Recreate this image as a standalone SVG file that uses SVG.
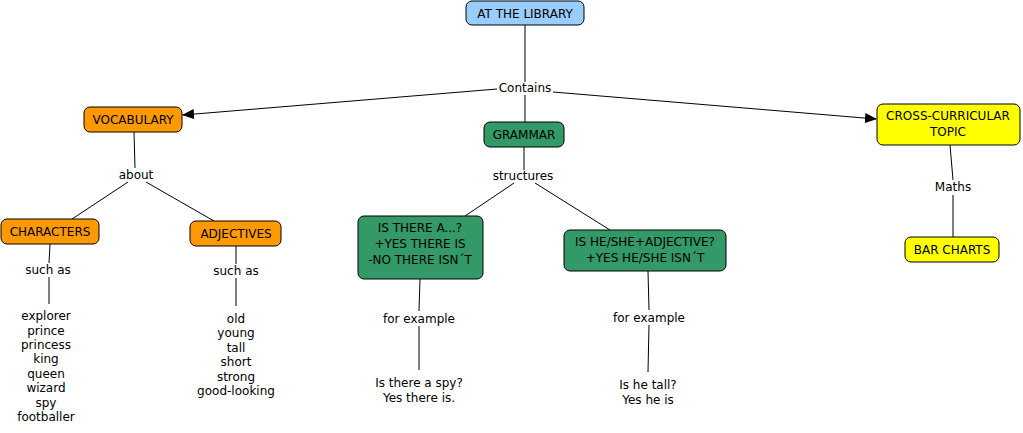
<svg xmlns="http://www.w3.org/2000/svg" width="1023" height="433" viewBox="0 0 1023 433">
<style>
text{font-family:"DejaVu Sans",Verdana,sans-serif;font-size:12px;fill:#000;text-anchor:middle}
.n{stroke:#000;stroke-width:1}
.o{fill:#ff9900}.g{fill:#339966}.y{fill:#ffff00}.b{fill:#99ccff}
.c line{stroke:#000;stroke-width:1}
</style>
<defs><marker id="a" markerWidth="12" markerHeight="10" refX="11" refY="5" orient="auto" markerUnits="userSpaceOnUse"><path d="M0,0L12,5L0,10z" fill="#000"/></marker></defs>
<rect width="1023" height="433" fill="#fff"/>
<g class="c">
<line x1="525" y1="25" x2="525" y2="82"/>
<line x1="497" y1="89" x2="183" y2="115" marker-end="url(#a)"/>
<line x1="553" y1="92" x2="876" y2="119" marker-end="url(#a)"/>
<line x1="525" y1="95" x2="525" y2="122"/>
<line x1="134" y1="132" x2="135" y2="168"/>
<line x1="128" y1="182" x2="72" y2="219"/>
<line x1="146" y1="182" x2="214" y2="221"/>
<line x1="524" y1="147" x2="524" y2="170"/>
<line x1="514" y1="183" x2="465" y2="216"/>
<line x1="535" y1="183" x2="610" y2="230"/>
<line x1="950" y1="145" x2="953" y2="180"/>
<line x1="953" y1="195" x2="953" y2="237"/>
<line x1="50" y1="244" x2="49" y2="263"/>
<line x1="49" y1="277" x2="49" y2="304"/>
<line x1="236" y1="246" x2="236" y2="264"/>
<line x1="236" y1="278" x2="236" y2="306"/>
<line x1="420" y1="279" x2="419" y2="311"/>
<line x1="419" y1="326" x2="419" y2="370"/>
<line x1="648" y1="271" x2="649" y2="310"/>
<line x1="649" y1="325" x2="648" y2="372"/>
</g>
<g id="library"><rect class="n b" x="466" y="1" width="118" height="24" rx="6"/><text x="525" y="18">AT THE LIBRARY</text></g>
<g id="vocabulary"><rect class="n o" x="84" y="107" width="98" height="25" rx="6"/><text x="133" y="124">VOCABULARY</text></g>
<g id="grammar"><rect class="n g" x="484" y="122" width="80" height="25" rx="6"/><text x="524" y="139">GRAMMAR</text></g>
<g id="cross"><rect class="n y" x="877" y="104" width="143" height="41" rx="6"/><text x="948" y="120">CROSS-CURRICULAR</text><text x="948" y="136">TOPIC</text></g>
<g id="characters"><rect class="n o" x="1" y="219" width="98" height="25" rx="6"/><text x="50" y="236">CHARACTERS</text></g>
<g id="adjectives"><rect class="n o" x="190" y="221" width="91" height="25" rx="6"/><text x="236" y="238">ADJECTIVES</text></g>
<g id="isthere"><rect class="n g" x="358" y="216" width="125" height="63" rx="6"/><text x="420" y="232">IS THERE A...?</text><text x="420" y="248">+YES THERE IS</text><text x="420" y="264">-NO THERE ISN´T</text></g>
<g id="ishe"><rect class="n g" x="564" y="230" width="162" height="41" rx="6"/><text x="645" y="246">IS HE/SHE+ADJECTIVE?</text><text x="645" y="262">+YES HE/SHE ISN´T</text></g>
<g id="barcharts"><rect class="n y" x="905" y="237" width="94" height="25" rx="6"/><text x="952" y="254">BAR CHARTS</text></g>
<g id="labels">
<text x="525" y="92">Contains</text>
<text x="136" y="179">about</text>
<text x="523" y="180">structures</text>
<text x="953" y="191">Maths</text>
<text x="48" y="274">such as</text>
<text x="236" y="275">such as</text>
<text x="419" y="323">for example</text>
<text x="649" y="322">for example</text>
</g>
<g id="charlist"><text x="46" y="320">explorer</text><text x="46" y="335">prince</text><text x="46" y="349">princess</text><text x="46" y="363">king</text><text x="46" y="378">queen</text><text x="46" y="392">wizard</text><text x="46" y="407">spy</text><text x="46" y="421">footballer</text></g>
<g id="adjlist"><text x="236" y="323">old</text><text x="236" y="337">young</text><text x="236" y="352">tall</text><text x="236" y="366">short</text><text x="236" y="381">strong</text><text x="236" y="395">good-looking</text></g>
<g id="ex1"><text x="419" y="387">Is there a spy?</text><text x="419" y="402">Yes there is.</text></g>
<g id="ex2"><text x="648" y="389">Is he tall?</text><text x="648" y="404">Yes he is</text></g>
</svg>
